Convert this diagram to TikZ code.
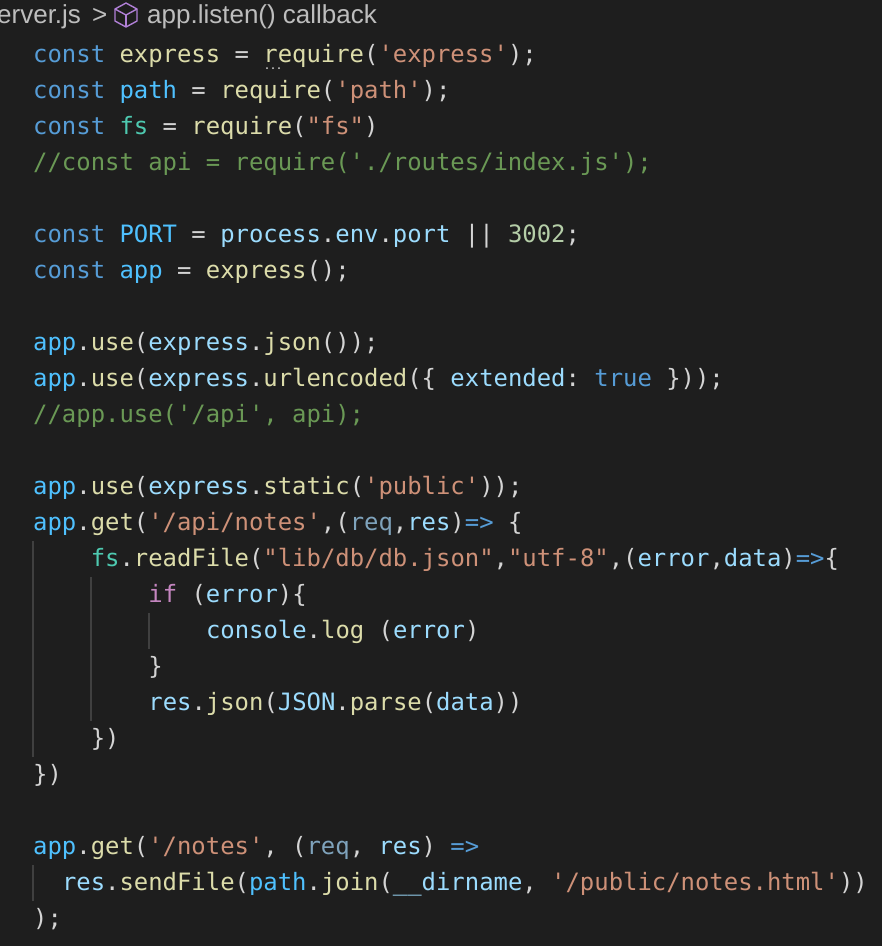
\documentclass[tikz,border=0pt]{standalone}
\usepackage{fontspec}
\newfontfamily\codefont{DejaVu Sans Mono}
\newfontfamily\uifont{Liberation Sans}
\newcommand\codesetup{\codefont\fontsize{23.9}{28}\selectfont\spaceskip=0.602em\relax\xspaceskip=0.602em\relax}
\definecolor{bg}{HTML}{1E1E1E}
\definecolor{ckw}{HTML}{569CD6}
\definecolor{cfn}{HTML}{DCDCAA}
\definecolor{cvar}{HTML}{9CDCFE}
\definecolor{cconst}{HTML}{4FC1FF}
\definecolor{cstr}{HTML}{CE9178}
\definecolor{ccom}{HTML}{6A9955}
\definecolor{cnum}{HTML}{B5CEA8}
\definecolor{cty}{HTML}{4EC9B0}
\definecolor{cpur}{HTML}{C586C0}
\definecolor{cpun}{HTML}{D4D4D4}
\definecolor{cdim}{HTML}{7FA3BC}
\definecolor{guide}{HTML}{404040}
\definecolor{crumb}{HTML}{BDBDBD}
\definecolor{cube}{HTML}{B180D7}
\newcommand\cK[1]{\textcolor{ckw}{#1}}
\newcommand\cY[1]{\textcolor{cfn}{#1}}
\newcommand\cV[1]{\textcolor{cvar}{#1}}
\newcommand\cC[1]{\textcolor{cconst}{#1}}
\newcommand\cS[1]{\textcolor{cstr}{#1}}
\newcommand\cG[1]{\textcolor{ccom}{#1}}
\newcommand\cN[1]{\textcolor{cnum}{#1}}
\newcommand\cT[1]{\textcolor{cty}{#1}}
\newcommand\cM[1]{\textcolor{cpur}{#1}}
\newcommand\cD[1]{\textcolor{cdim}{#1}}
\begin{document}
\begin{tikzpicture}[x=1pt,y=-1pt,
  code/.style={anchor=base west,inner sep=0pt,font=\codesetup,text=cpun},
  crumbtxt/.style={anchor=base west,inner sep=0pt,font=\uifont\fontsize{26}{30}\selectfont,text=crumb},
  guideline/.style={draw=guide,line width=1.2pt}]
\fill[bg] (0,0) rectangle (882,946);
\useasboundingbox (0,0) rectangle (882,946);
% breadcrumb
\node[crumbtxt] (bc1) at (-3,23) {erver.js};
\node[crumbtxt] (bc2) at (92,23) {>};
\begin{scope}[cube,line width=1.4pt,line join=round]
\draw (126,3) -- (137,9) -- (137,21) -- (126,27) -- (115,21) -- (115,9) -- cycle;
\draw (115,9) -- (126,15) -- (137,9);
\draw (126,15) -- (126,27);
\end{scope}
\node[crumbtxt] (bc3) at (147,23) {app.listen() callback};
% indent guides
\draw[guideline] (33,541) -- (33,757);
\draw[guideline] (91,577) -- (91,721);
\draw[guideline] (149,613) -- (149,649);
\draw[guideline] (33,865) -- (33,901);
% dots under require
\foreach \dx in {267,273,279} \fill[crumb!70] (\dx,68) circle (1pt);
% code lines
\node[code] (l1) at (33,62) {\cK{const} \cY{express} = \cY{require}(\cS{'express'});};
\node[code] (l2) at (33,98) {\cK{const} \cC{path} = \cY{require}(\cS{'path'});};
\node[code] (l3) at (33,134) {\cK{const} \cT{fs} = \cY{require}(\cS{"fs"})};
\node[code] (l4) at (33,170) {\cG{//const api = require('./routes/index.js');}};
\node[code] (l6) at (33,242) {\cK{const} \cC{PORT} = \cV{process}.\cV{env}.\cV{port} || \cN{3002};};
\node[code] (l7) at (33,278) {\cK{const} \cC{app} = \cY{express}();};
\node[code] (l9) at (33,350) {\cC{app}.\cY{use}(\cV{express}.\cY{json}());};
\node[code] (l10) at (33,386) {\cC{app}.\cY{use}(\cV{express}.\cY{urlencoded}(\{ \cV{extended}: \cK{true} \}));};
\node[code] (l11) at (33,422) {\cG{//app.use('/api', api);}};
\node[code] (l13) at (33,494) {\cC{app}.\cY{use}(\cV{express}.\cY{static}(\cS{'public'}));};
\node[code] (l14) at (33,530) {\cC{app}.\cY{get}(\cS{'/api/notes'},(\cD{req},\cV{res})\cK{=>} \{};
\node[code] (l15) at (90.6,566) {\cT{fs}.\cY{readFile}(\cS{"lib/db/db.json"},\cS{"utf-8"},(\cV{error},\cV{data})\cK{=>}\{};
\node[code] (l16) at (148.2,602) {\cM{if} (\cV{error})\{};
\node[code] (l17) at (205.8,638) {\cV{console}.\cY{log} (\cV{error})};
\node[code] (l18) at (148.2,674) {\}};
\node[code] (l19) at (148.2,710) {\cV{res}.\cY{json}(\cV{JSON}.\cY{parse}(\cV{data}))};
\node[code] (l20) at (90.6,746) {\})};
\node[code] (l21) at (33,782) {\})};
\node[code] (l23) at (33,854) {\cC{app}.\cY{get}(\cS{'/notes'}, (\cD{req}, \cV{res}) \cK{=>}};
\node[code] (l24) at (61.8,890) {\cV{res}.\cY{sendFile}(\cC{path}.\cY{join}(\cV{\_\_dirname}, \cS{'/public/notes.html'}))};
\node[code] (l25) at (33,926) {);};
\end{tikzpicture}
\end{document}
